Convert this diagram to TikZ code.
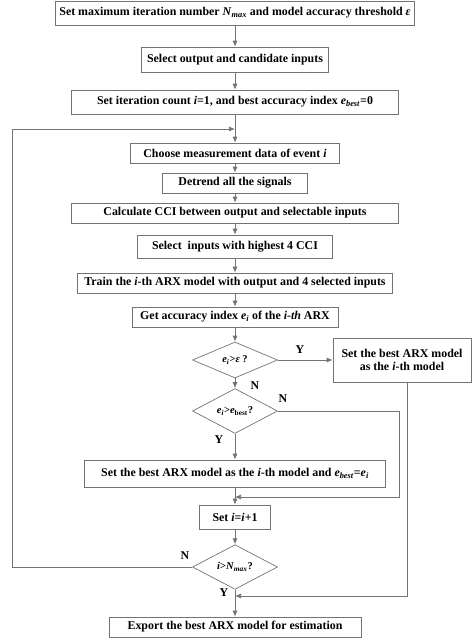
\documentclass[tikz,border=0pt]{standalone}
\usepackage{fontspec}
\setmainfont{Liberation Serif}
\usepackage{xcolor}
\usetikzlibrary{arrows.meta,shapes.geometric}
\definecolor{linegray}{gray}{0.45}
\begin{document}
\begin{tikzpicture}[x=1pt,y=-1pt,>={Latex[length=6pt,width=5pt]},
    font=\fontsize{11.9}{13.5}\selectfont\bfseries,
    proc/.style={draw=linegray,line width=0.7pt,inner sep=0pt,align=center},
    test/.style={diamond,draw=linegray,line width=0.7pt,inner sep=0pt,minimum width=85pt,minimum height=36pt,font=\fontsize{10.5}{12}\selectfont\bfseries},
    flow/.style={draw=linegray,line width=0.7pt},
    yn/.style={font=\fontsize{11.9}{13.5}\selectfont\bfseries}]
      \useasboundingbox (0,0) rectangle (474,640);
      % main column
      \node[proc,minimum width=359pt,minimum height=24pt] (setmax) at (235,13) {Set maximum iteration number \textit{N}\textsubscript{\textit{max}} and model accuracy threshold \textit{ε}};
      \node[proc,minimum width=187pt,minimum height=25pt] (selout) at (235,59.5) {Select output and candidate inputs};
      \node[proc,minimum width=327pt,minimum height=24pt] (setcount) at (235,102) {Set iteration count \textit{i}=1, and best accuracy index \textit{e}\textsubscript{\textit{best}}=0};
      \node[proc,minimum width=209pt,minimum height=20pt] (choose) at (235,153) {Choose measurement data of event \textit{i}};
      \node[proc,minimum width=145pt,minimum height=20pt] (detrend) at (235,183) {Detrend all the signals};
      \node[proc,minimum width=327pt,minimum height=20pt] (calc) at (235,213) {Calculate CCI between output and selectable inputs};
      \node[proc,minimum width=195pt,minimum height=23pt] (selin) at (235,246.5) {Select\ \ inputs with highest 4 CCI};
      \node[proc,minimum width=315pt,minimum height=20pt] (train) at (235,283) {Train the \textit{i}-th ARX model with output and 4 selected inputs};
      \node[proc,minimum width=206pt,minimum height=20pt] (getacc) at (235,317) {Get accuracy index \textit{e}\textsubscript{\textit{i}} of the \textit{i-th} ARX};
      \node[test] (thr) at (235,360) {\textit{e}\textsubscript{\textit{i}}>\textit{ε} ?};
      \node[proc,minimum width=138pt,minimum height=44pt] (setbest) at (402,360) {Set the best ARX model\\as the \textit{i}-th model};
      \node[test] (better) at (235,411) {\textit{e}\textsubscript{\textit{i}}>\textit{e}\textsubscript{best}?};
      \node[proc,minimum width=301pt,minimum height=27pt] (update) at (235,473.5) {Set the best ARX model as the \textit{i}-th model and \textit{e}\textsubscript{\textit{best}}=\textit{e}\textsubscript{\textit{i}}};
      \node[proc,minimum width=71pt,minimum height=24pt] (incr) at (235,517) {Set \textit{i}=\textit{i}+1};
      \node[test] (done) at (235,567) {\textit{i}>\textit{N}\textsubscript{\textit{max}}?};
      \node[proc,minimum width=252pt,minimum height=20pt] (export) at (235,627) {Export the best ARX model for estimation};
      % joins
      \coordinate (loopin) at (235,129);
      \coordinate (betterin) at (235,497);
      \coordinate (exitin) at (235,596);
      % straight arrows
      \draw[flow,->] (setmax) -- (selout);
      \draw[flow,->] (selout) -- (setcount);
      \draw[flow,->] (setcount) -- (choose);
      \draw[flow,->] (choose) -- (detrend);
      \draw[flow,->] (detrend) -- (calc);
      \draw[flow,->] (calc) -- (selin);
      \draw[flow,->] (selin) -- (train);
      \draw[flow,->] (train) -- (getacc);
      \draw[flow,->] (getacc) -- (thr);
      \draw[flow,->] (thr) -- (better);
      \draw[flow,->] (better) -- (update);
      \draw[flow,->] (update) -- (incr);
      \draw[flow,->] (incr) -- (done);
      \draw[flow,->] (done) -- (export);
      \draw[flow,->] (thr) -- (setbest);
      % returns
      \draw[flow,->] (better.east) -| (399,497) -- (betterin);
      \draw[flow,->] (setbest.south -| 407,0) -- (407,596) -- (exitin);
      \draw[flow,->] (done.west) -| (12,129) -- (loopin);
      % labels
      \node[yn] (y1) at (300,350) {Y};
      \node[yn] (n1) at (255,386) {N};
      \node[yn] (n2) at (283,399) {N};
      \node[yn] (y2) at (219,440) {Y};
      \node[yn] (n3) at (185,556) {N};
      \node[yn] (y3) at (224,593) {Y};
    \end{tikzpicture}
\end{document}
